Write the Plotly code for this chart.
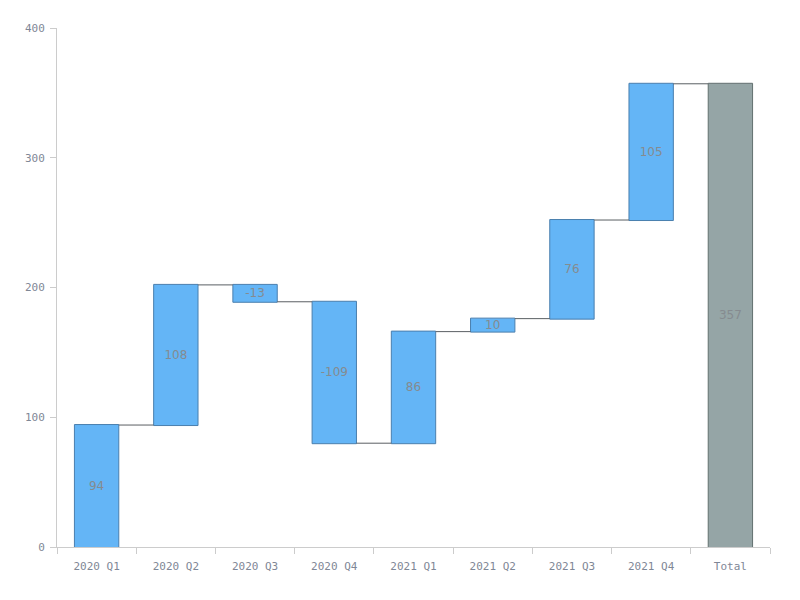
import plotly.graph_objects as go

categories = ["2020 Q1", "2020 Q2", "2020 Q3", "2020 Q4", "2021 Q1", "2021 Q2", "2021 Q3", "2021 Q4", "Total"]
changes = [94, 108, -13, -109, 86, 10, 76, 105, None]
measures = ["relative"] * 8 + ["total"]
labels = ["94", "108", "-13", "-109", "86", "10", "76", "105", "357"]

blue = "#64B5F6"
blue_line = "#4a7fae"

fig = go.Figure()

fig.add_trace(go.Waterfall(
    x=categories,
    y=changes,
    measure=measures,
    text=labels,
    textposition="inside",
    insidetextanchor="middle",
    constraintext="none",
    textfont=dict(family="DejaVu Sans", size=12, color="#858b90"),
    increasing=dict(marker=dict(color=blue, line=dict(color=blue_line, width=1))),
    decreasing=dict(marker=dict(color=blue, line=dict(color=blue_line, width=1))),
    totals=dict(marker=dict(color="#95A5A6", line=dict(color="#63706f", width=1))),
    connector=dict(line=dict(color="#5a5f63", width=1)),
    showlegend=False,
))

# the page adds an 8px body margin, so the margins are shifted by that
fig.update_layout(
    width=800,
    height=600,
    margin=dict(l=49, r=38, t=20, b=61),
    plot_bgcolor="white",
    paper_bgcolor="white",
    waterfallgap=0.44,
    font=dict(family="DejaVu Sans Mono", size=11, color="#7f8796"),
)

fig.update_xaxes(
    showline=True, linecolor="#cccccc", linewidth=1,
    ticks="outside", tickson="boundaries", ticklen=6, tickcolor="#cccccc",
    ticklabelstandoff=9,
    showgrid=False,
)
fig.update_yaxes(
    range=[0, 400], dtick=100,
    showline=True, linecolor="#cccccc", linewidth=1,
    ticks="outside", ticklen=6, tickcolor="#cccccc",
    ticklabelstandoff=3,
    showgrid=False, zeroline=False,
)

fig.write_html("out.html")
